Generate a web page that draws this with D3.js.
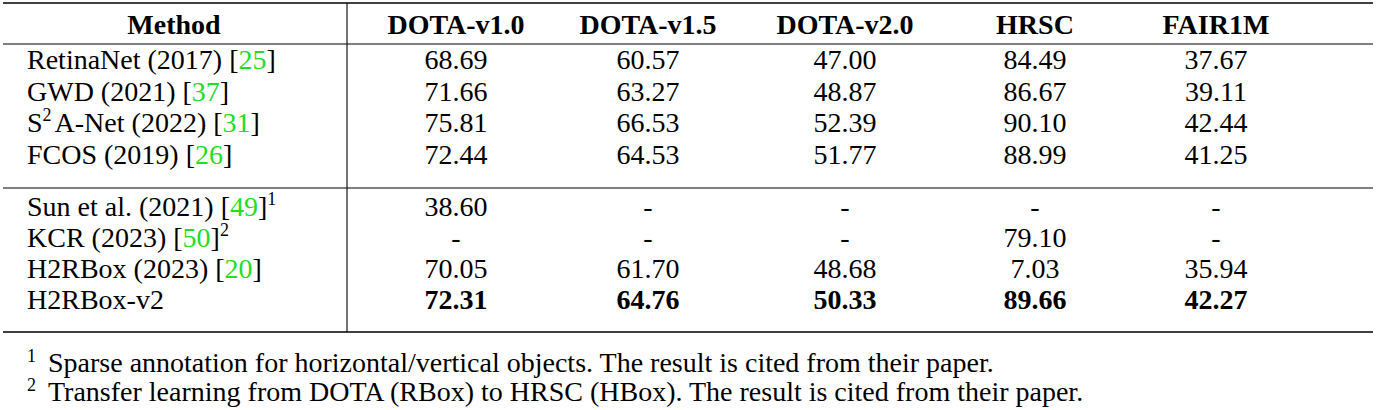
<!DOCTYPE html>
<html><head><meta charset="utf-8">
<script src="https://cdn.jsdelivr.net/npm/d3@7"></script>
<style>body{margin:0;background:#fff} svg text{font-family:"Liberation Serif","Times New Roman","DejaVu Serif",serif}</style></head>
<body><svg id="c" width="1376" height="410"></svg>
<script>
const columns = ["Method","DOTA-v1.0","DOTA-v1.5","DOTA-v2.0","HRSC","FAIR1M"];
const methods = [
  {name:"RetinaNet (2017) [", ref:"25", tail:"]"},
  {name:"GWD (2021) [", ref:"37", tail:"]"},
  {name:"S", sup0:"2", name2:"A-Net (2022) [", ref:"31", tail:"]"},
  {name:"FCOS (2019) [", ref:"26", tail:"]"},
  {name:"Sun et al. (2021) [", ref:"49", tail:"]", sup:"1"},
  {name:"KCR (2023) [", ref:"50", tail:"]", sup:"2"},
  {name:"H2RBox (2023) [", ref:"20", tail:"]"},
  {name:"H2RBox-v2"}
];
const values = [
  ["68.69","60.57","47.00","84.49","37.67"],
  ["71.66","63.27","48.87","86.67","39.11"],
  ["75.81","66.53","52.39","90.10","42.44"],
  ["72.44","64.53","51.77","88.99","41.25"],
  ["38.60","-","-","-","-"],
  ["-","-","-","79.10","-"],
  ["70.05","61.70","48.68","7.03","35.94"],
  ["72.31","64.76","50.33","89.66","42.27"]
];
const boldRow = 7;
const footnotes = [
  {mark:"1", text:"Sparse annotation for horizontal/vertical objects. The result is cited from their paper."},
  {mark:"2", text:"Transfer learning from DOTA (RBox) to HRSC (HBox). The result is cited from their paper."}
];
const svg = d3.select("#c");
const fs = 28;
const colX = d3.scaleOrdinal().domain(columns.slice(1)).range([456,648,845,1035,1216]);
const rowY = d3.scaleLinear().domain([0,3]).range([60,155]);
const rowY2 = d3.scaleLinear().domain([4,7]).range([207,300]);
const ry = i => i<4 ? rowY(i) : rowY2(i);
const line = (x1,y1,x2,y2,w)=>svg.append("line").attr("x1",x1).attr("y1",y1).attr("x2",x2).attr("y2",y2).attr("stroke","#000").attr("stroke-width",w);
line(3,3,1373,3,1.6); line(3,44,1373,44,1.1); line(3,188,1373,188,1.1); line(3,332,1373,332,1.6);
line(347,3,347,332,1.1);
const T = (x,y,anchor)=>svg.append("text").attr("x",x).attr("y",y+9).attr("font-size",fs).attr("text-anchor",anchor);
T(174,25,"middle").attr("font-weight","bold").text(columns[0]);
columns.slice(1).forEach(c=>T(colX(c),25,"middle").attr("font-weight","bold").text(c));
methods.forEach((m,i)=>{
  const t = T(27,ry(i),"start");
  t.append("tspan").text(m.name);
  if(m.sup0){ t.append("tspan").attr("font-size",18).attr("dy",-11).text(m.sup0); t.append("tspan").attr("dy",11).attr("dx",3).text(m.name2); }
  if(m.ref){ t.append("tspan").attr("fill","#22dd22").text(m.ref); t.append("tspan").text(m.tail); }
  if(m.sup){ t.append("tspan").attr("font-size",18).attr("dy",-11).text(m.sup); }
  values[i].forEach((v,j)=>T(colX(columns[j+1]),ry(i),"middle").attr("font-weight",i===boldRow?"bold":"normal").text(v));
});
footnotes.forEach((f,i)=>{
  const y = 363 + i*29;
  T(27,y-10,"start").attr("font-size",18).text(f.mark);
  T(48,y,"start").text(f.text);
});
</script></body></html>
